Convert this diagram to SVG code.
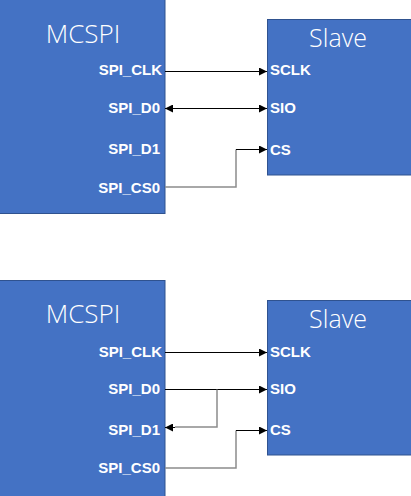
<svg xmlns="http://www.w3.org/2000/svg" width="411" height="496" viewBox="0 0 411 496">
<style>
.box{fill:#4472C4;stroke:#2F528F;stroke-width:1}
.title{font-family:"Open Sans","Liberation Sans",sans-serif;font-weight:300;fill:#fff}
.lbl{font-family:"Liberation Sans",Arial,sans-serif;font-weight:bold;font-size:15px;fill:#fff}
.r{text-anchor:end}
.w{fill:none;stroke:#000;stroke-width:1}
.g{fill:none;stroke:#8c8c8c;stroke-width:1.5}
</style>
<defs>
<marker id="ah" viewBox="0 0 10 10" refX="10" refY="5" markerWidth="8" markerHeight="8" markerUnits="userSpaceOnUse" orient="auto-start-reverse">
<path d="M0,0 L10,5 L0,10 Z" fill="#000"/>
</marker>
</defs>
<rect width="411" height="496" fill="#fff"/>
<g id="mcspi1">
<rect class="box" x="-1" y="-1" width="166" height="214.5"/>
<text class="title" x="83" y="43" font-size="26" text-anchor="middle">MCSPI</text>
<text class="lbl r" x="162" y="75">SPI_CLK</text>
<text class="lbl r" x="160" y="113">SPI_D0</text>
<text class="lbl r" x="160" y="154">SPI_D1</text>
<text class="lbl r" x="160" y="193">SPI_CS0</text>
</g>
<g id="slave1">
<rect class="box" x="267.5" y="19.5" width="150" height="155.5"/>
<text class="title" x="338" y="47" font-size="25" text-anchor="middle">Slave</text>
<text class="lbl" x="270" y="75">SCLK</text>
<text class="lbl" x="270" y="113">SIO</text>
<text class="lbl" x="270" y="155">CS</text>
</g>
<g id="mcspi2">
<rect class="box" x="-1" y="280.5" width="166" height="220"/>
<text class="title" x="83" y="323" font-size="26" text-anchor="middle">MCSPI</text>
<text class="lbl r" x="162" y="357">SPI_CLK</text>
<text class="lbl r" x="160" y="394">SPI_D0</text>
<text class="lbl r" x="160" y="435">SPI_D1</text>
<text class="lbl r" x="160" y="473">SPI_CS0</text>
</g>
<g id="slave2">
<rect class="box" x="267.5" y="300.5" width="150" height="154.5"/>
<text class="title" x="338" y="328" font-size="25" text-anchor="middle">Slave</text>
<text class="lbl" x="270" y="357">SCLK</text>
<text class="lbl" x="270" y="394">SIO</text>
<text class="lbl" x="270" y="435">CS</text>
</g>
<g id="connectors">
<path class="w" d="M165,71.5 H267" marker-end="url(#ah)"/>
<path class="w" d="M165,108.5 H267" marker-start="url(#ah)" marker-end="url(#ah)"/>
<path class="g" d="M165,187 H236 V149.5"/>
<path class="w" d="M236,149.5 H267" marker-end="url(#ah)"/>
<path class="w" d="M165,352.5 H267" marker-end="url(#ah)"/>
<path class="w" d="M165,389.5 H267" marker-end="url(#ah)"/>
<path class="g" d="M217,389.5 V427 H175"/>
<path class="w" d="M175,427.5 H165" marker-end="url(#ah)"/>
<path class="g" d="M165,468 H236 V430.5"/>
<path class="w" d="M236,430.5 H267" marker-end="url(#ah)"/>
</g>
</svg>
